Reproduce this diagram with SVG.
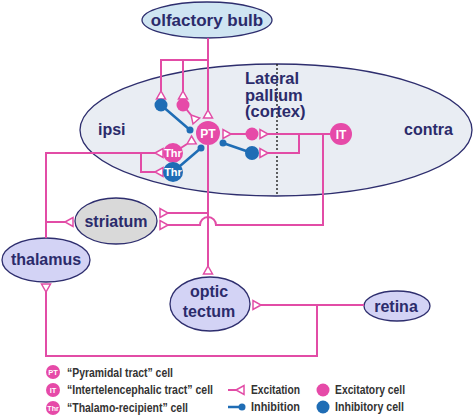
<svg xmlns="http://www.w3.org/2000/svg" xmlns:xlink="http://www.w3.org/1999/xlink" width="474" height="415" viewBox="0 0 474 415">
<style>
.reg{stroke:#2e2e6e;stroke-width:1.3}
.lab{font-family:"Liberation Sans",Arial,sans-serif;font-weight:bold;fill:#2b2b6b}
.leg{font-family:"Liberation Sans",Arial,sans-serif;font-weight:bold;fill:#333;font-size:12px}
.ex{fill:none;stroke:#e24ca6;stroke-width:2}
.exa{fill:#fff;stroke:#e24ca6;stroke-width:1.5}
.in{fill:none;stroke:#1f6db5;stroke-width:2.5}
.pk{fill:#e64aa8}
.bl{fill:#1f6db5}
.ct{font-family:"Liberation Sans",Arial,sans-serif;font-weight:bold;fill:#fff;text-anchor:middle}
</style>
<defs>
<path id="ex" d="M0,0 L8,-4.5 L8,4.5 Z"/>
</defs>
<rect width="474" height="415" fill="#fff"/>
<g id="pallium">
<ellipse cx="276" cy="130" rx="196" ry="66" fill="#e9edf3" class="reg"/>
<line x1="277" y1="64" x2="277" y2="196" stroke="#111" stroke-width="1.3" stroke-dasharray="2,2"/>
<text class="lab" font-size="16.5" x="245" y="84">Lateral</text>
<text class="lab" font-size="16.5" x="245" y="100.5">pallium</text>
<text class="lab" font-size="16.5" x="245" y="117">(cortex)</text>
<text class="lab" font-size="16" x="98" y="135">ipsi</text>
<text class="lab" font-size="16" x="404" y="135">contra</text>
</g>
<g id="olfactory-bulb">
<ellipse cx="207" cy="20" rx="65" ry="18" fill="#cfe5f2" class="reg"/>
<text class="lab" font-size="17" x="207" y="26" text-anchor="middle">olfactory bulb</text>
</g>
<g id="striatum">
<ellipse cx="116" cy="221" rx="41" ry="23" fill="#d9d9d9" class="reg"/>
<text class="lab" font-size="16" x="116" y="227" text-anchor="middle">striatum</text>
</g>
<g id="thalamus">
<ellipse cx="46" cy="260" rx="44" ry="22" fill="#d3d3f5" class="reg"/>
<text class="lab" font-size="16" x="46" y="265" text-anchor="middle">thalamus</text>
</g>
<g id="optic-tectum">
<ellipse cx="210" cy="304" rx="40" ry="27" fill="#d3d3f5" class="reg"/>
<text class="lab" font-size="16" x="209" y="297" text-anchor="middle">optic</text>
<text class="lab" font-size="16" x="209" y="317" text-anchor="middle">tectum</text>
</g>
<g id="retina">
<ellipse cx="397" cy="306" rx="33" ry="15" fill="#d3d3f5" class="reg"/>
<text class="lab" font-size="16" x="396" y="312" text-anchor="middle">retina</text>
</g>
<g id="connectors">
<path class="ex" d="M208,38 V110 M208,60 H161 V91 M183,60 V91"/>
<path class="ex" d="M183,105 L191,115 M173,153 L187,144 M252,134 H231"/>
<path class="ex" d="M330,134 H268 M299,134 V153 H268 M323,134 V225 H216 A8,8 0 0 0 200,225 H168"/>
<path class="ex" d="M208,145 V266 M208,213 H168"/>
<path class="ex" d="M46,238 V153 H155 M141,153 V172 H155 M46,222 H65"/>
<path class="ex" d="M46,292 V356 H317 V305 M364,305 H261"/>
<use xlink:href="#ex" class="exa" transform="translate(161,91) rotate(90)"/>
<use xlink:href="#ex" class="exa" transform="translate(183,91) rotate(90)"/>
<use xlink:href="#ex" class="exa" transform="translate(208,110) rotate(90)"/>
<use xlink:href="#ex" class="exa" transform="translate(191,115) rotate(48)"/>
<use xlink:href="#ex" class="exa" transform="translate(187,144) rotate(-31)"/>
<use xlink:href="#ex" class="exa" transform="translate(231,134) rotate(180)"/>
<use xlink:href="#ex" class="exa" transform="translate(268,134) rotate(180)"/>
<use xlink:href="#ex" class="exa" transform="translate(268,153) rotate(180)"/>
<use xlink:href="#ex" class="exa" transform="translate(155,153)"/>
<use xlink:href="#ex" class="exa" transform="translate(155,172)"/>
<use xlink:href="#ex" class="exa" transform="translate(65,222)"/>
<use xlink:href="#ex" class="exa" transform="translate(168,213) rotate(180)"/>
<use xlink:href="#ex" class="exa" transform="translate(168,225) rotate(180)"/>
<use xlink:href="#ex" class="exa" transform="translate(208,266) rotate(90)"/>
<use xlink:href="#ex" class="exa" transform="translate(261,305) rotate(180)"/>
<use xlink:href="#ex" class="exa" transform="translate(46,292) rotate(-90)"/>
<path class="in" d="M161,105 L190,130 M173,172 L201,148 M252,153 L223,143"/>
<circle class="bl" cx="190" cy="130" r="3.5"/>
<circle class="bl" cx="201" cy="148" r="3.5"/>
<circle class="bl" cx="223" cy="143" r="3.5"/>
</g>
<g id="cell-blue-top"><circle class="bl" cx="161" cy="105" r="6.5"/></g>
<g id="cell-pink-top"><circle class="pk" cx="183" cy="105" r="6.5"/></g>
<g id="PT"><circle class="pk" cx="208" cy="133" r="12"/><text class="ct" font-size="12" x="208" y="137.5">PT</text></g>
<g id="Thr-pink"><circle class="pk" cx="173" cy="153" r="10"/><text class="ct" font-size="11" x="173" y="157">Thr</text></g>
<g id="Thr-blue"><circle class="bl" cx="173" cy="172" r="10"/><text class="ct" font-size="11" x="173" y="176">Thr</text></g>
<g id="cell-pink-right"><circle class="pk" cx="252" cy="134" r="6.5"/></g>
<g id="cell-blue-right"><circle class="bl" cx="252" cy="153" r="7"/></g>
<g id="IT"><circle class="pk" cx="341" cy="134" r="11"/><text class="ct" font-size="12" x="341" y="138.5">IT</text></g>
<g id="legend">
<circle class="pk" cx="53" cy="372" r="7"/><text class="ct" font-size="7.5" x="53" y="374.7">PT</text>
<text class="leg" x="67" y="377" textLength="106" lengthAdjust="spacingAndGlyphs">“Pyramidal tract” cell</text>
<circle class="pk" cx="53" cy="390" r="7"/><text class="ct" font-size="7.5" x="53" y="392.7">IT</text>
<text class="leg" x="67" y="394" textLength="146" lengthAdjust="spacingAndGlyphs">“Intertelencephalic tract” cell</text>
<circle class="pk" cx="53" cy="408" r="7"/><text class="ct" font-size="7" x="53" y="410.5">Thr</text>
<text class="leg" x="67" y="412" textLength="121" lengthAdjust="spacingAndGlyphs">“Thalamo-recipient” cell</text>
<path class="ex" d="M228,390 H236"/>
<use xlink:href="#ex" class="exa" transform="translate(236,390)"/>
<text class="leg" x="251" y="394" textLength="49" lengthAdjust="spacingAndGlyphs">Excitation</text>
<path class="in" d="M228,407 H241"/>
<circle class="bl" cx="242" cy="407" r="3.5"/>
<text class="leg" x="251" y="411" textLength="49" lengthAdjust="spacingAndGlyphs">Inhibition</text>
<circle class="pk" cx="323" cy="390" r="6.5"/>
<text class="leg" x="335" y="394" textLength="70" lengthAdjust="spacingAndGlyphs">Excitatory cell</text>
<circle class="bl" cx="323" cy="407" r="6.5"/>
<text class="leg" x="335" y="411" textLength="69" lengthAdjust="spacingAndGlyphs">Inhibitory cell</text>
</g>
</svg>
